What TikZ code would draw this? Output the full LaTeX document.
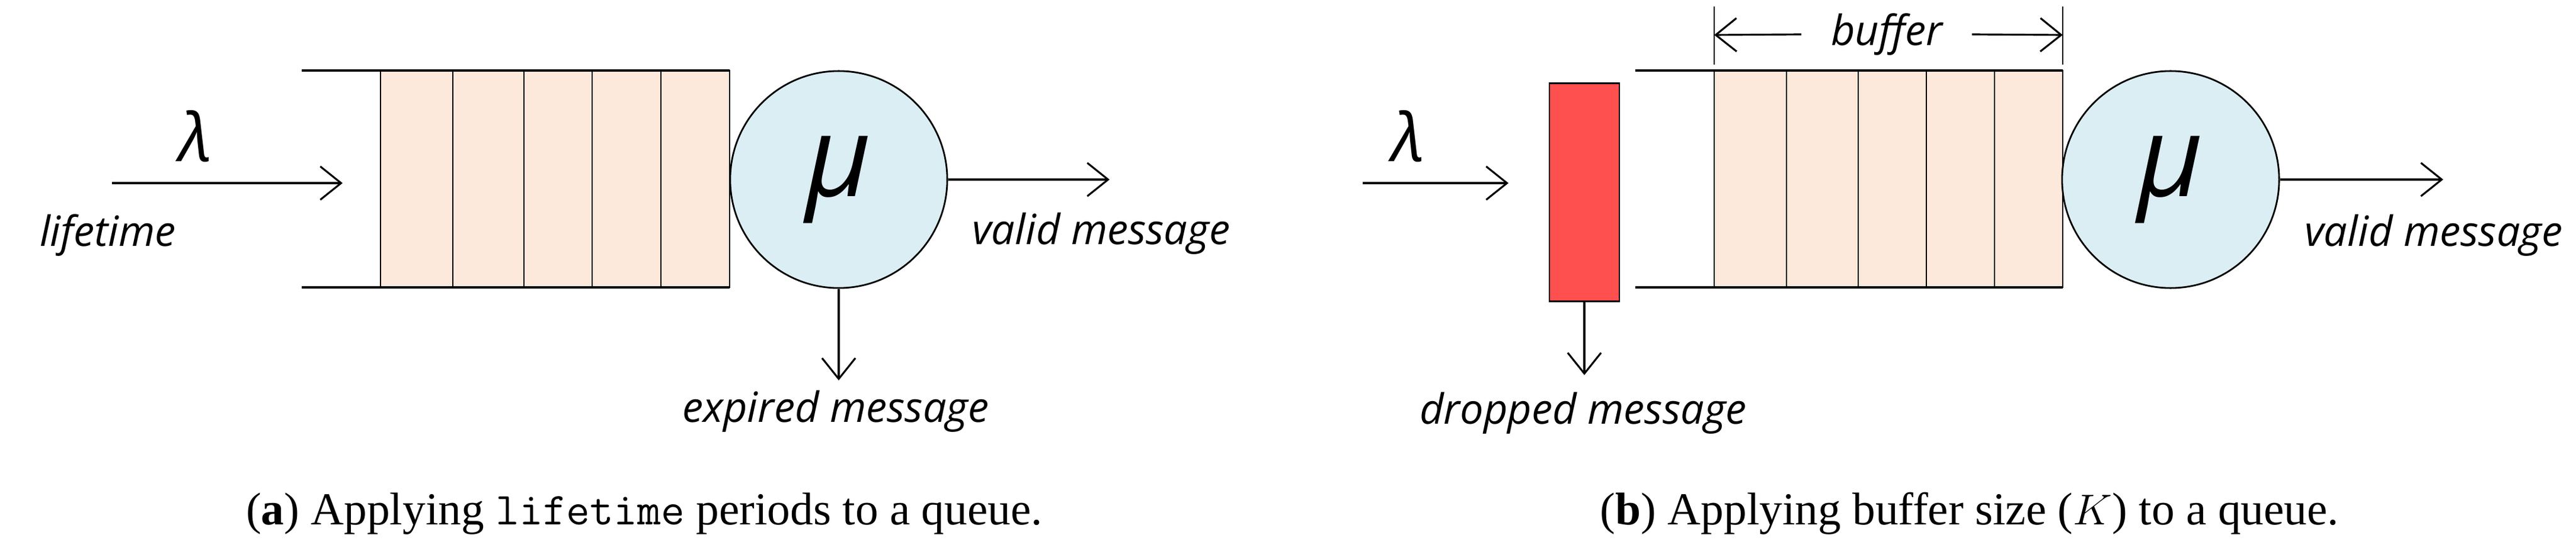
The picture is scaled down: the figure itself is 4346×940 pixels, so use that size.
\documentclass[tikz,border=0pt]{standalone}
\usepackage{fontspec}
\setmainfont{Liberation Serif}
\newfontfamily\lblfont{Open Sans}
\usetikzlibrary{arrows.meta}
\definecolor{peach}{HTML}{FCE9DB}
\definecolor{cblue}{HTML}{DAEEF3}
\definecolor{dred}{HTML}{FF5050}
\tikzset{
  px/.style={x=0.01cm,y=-0.01cm},
  cell/.style={draw,fill=peach,line width=0.8pt},
  srv/.style={draw,fill=cblue,circle,line width=0.8pt,minimum size=3.66cm,inner sep=0pt,font=\lblfont\itshape\fontsize{54}{60}\selectfont},
  flow/.style={-{Straight Barb[length=10pt,width=16pt]},line width=0.9pt},
  lbl/.style={font=\lblfont\itshape\fontsize{20}{24}\selectfont},
  greek/.style={font=\lblfont\itshape\fontsize{32}{36}\selectfont},
  captext/.style={font=\fontsize{22}{26}\selectfont},
  qline/.style={line width=1pt}
}
\begin{document}
\begin{tikzpicture}[px]
\useasboundingbox (0,0) rectangle (4346,940);
% ---------- panel a
\foreach \a/\b in {642/764,764/884,884/999,999/1115,1115/1231}
  \draw[cell] (\a,119) rectangle (\b,485);
\draw[qline] (509,119) -- (1231,119);
\draw[qline] (509,485) -- (1231,485);
\node[srv] (mua) at (1415,303) {μ};
\coordinate (ina) at (189,309);
\coordinate (inae) at (578,309);
\draw[flow] (ina) -- (inae);
\node[greek] (lama) at (330,230) {λ};
\node[lbl] (lifea) at (182,397) {lifetime};
\coordinate (outa) at (1872,303);
\draw[flow] (mua.east) -- (outa);
\node[lbl] (valida) at (1858,394) {valid message};
\coordinate (downa) at (1415,642);
\draw[flow] (mua.south) -- (downa);
\node[lbl] (expa) at (1410,694) {expired message};
\node[captext] (capa) at (1087,867) {(\textbf{a}) Applying \texttt{lifetime} periods to a queue.};
% ---------- panel b
\node[draw,fill=dred,line width=0.8pt,minimum width=1.18cm,minimum height=3.67cm,inner sep=0pt] (drop) at (2673,324.5) {};
\coordinate (inb) at (2299,309);
\coordinate (inbe) at (2545,309);
\draw[flow] (inb) -- (inbe);
\node[greek] (lamb) at (2376,230) {λ};
\foreach \a/\b in {2892/3014,3014/3135,3135/3250,3250/3365,3365/3480}
  \draw[cell] (\a,119) rectangle (\b,485);
\draw[qline] (2759,119) -- (3480,119);
\draw[qline] (2759,485) -- (3480,485);
\node[srv] (mub) at (3662,303) {μ};
\coordinate (outb) at (4122,303);
\draw[flow] (mub.east) -- (outb);
\node[lbl] (validb) at (4106,397) {valid message};
\coordinate (downb) at (2673,633);
\draw[flow] (drop.south) -- (downb);
\node[lbl] (dropm) at (2671,697) {dropped message};
\draw[line width=0.8pt] (2892,11) -- (2892,109);
\draw[line width=0.8pt] (3480,11) -- (3480,109);
\node[lbl,inner sep=14pt] (buf) at (3183,58) {buffer};
\coordinate (bl) at (2892,59);
\coordinate (br) at (3480,59);
\draw[flow] (buf.west) -- (bl);
\draw[flow] (buf.east) -- (br);
\node[captext] (capb) at (3323,867) {(\textbf{b}) Applying buffer size ($K$) to a queue.};
\end{tikzpicture}
\end{document}
